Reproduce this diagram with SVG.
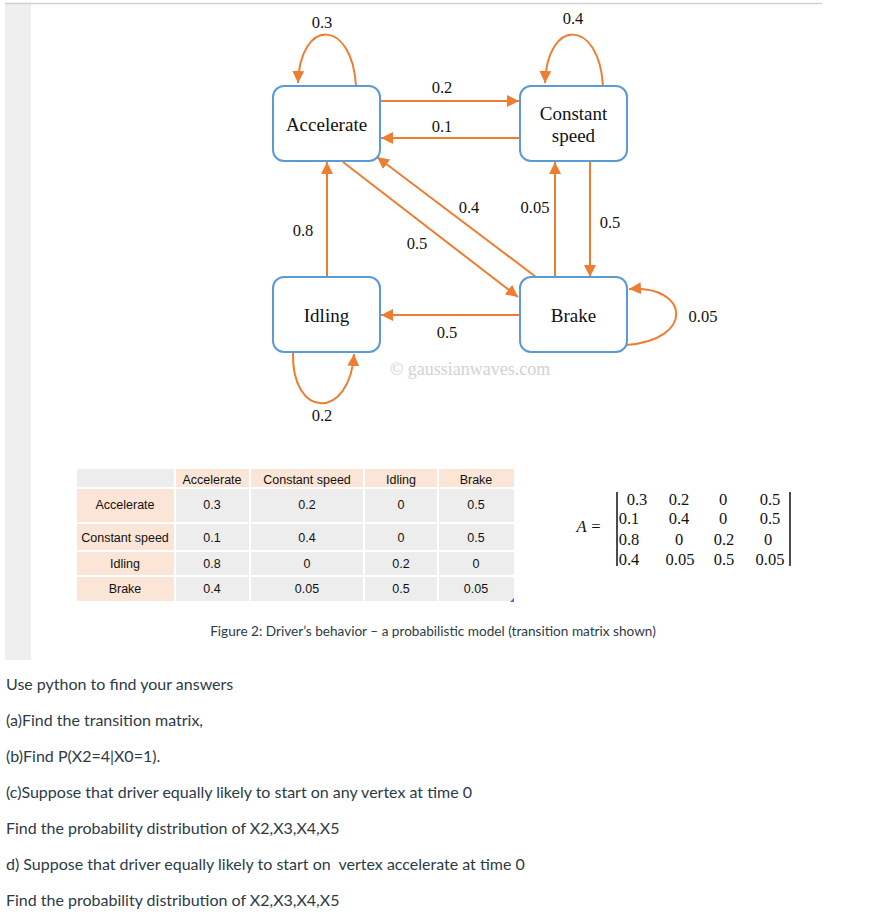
<svg xmlns="http://www.w3.org/2000/svg" width="882" height="924" viewBox="0 0 882 924">
<style>
.box{fill:#fff;stroke:#5B9BD5;stroke-width:2}
.ntext{font-family:"Liberation Serif",serif;font-size:19px;fill:#111;text-anchor:middle;dominant-baseline:central}
.lbl{font-family:"Liberation Serif",serif;font-size:16.5px;fill:#111;text-anchor:middle;dominant-baseline:central}
.edge{fill:none;stroke:#ED7D31;stroke-width:2;marker-end:url(#ah)}
.th{fill:#FBE5D6;stroke:#fff;stroke-width:2}
.tg{fill:#EDEDED;stroke:#fff;stroke-width:2}
.tt{font-family:"Liberation Sans",sans-serif;font-size:12.5px;fill:#111;text-anchor:middle;dominant-baseline:central}
.mx{font-family:"Liberation Serif",serif;font-size:16.5px;fill:#111;text-anchor:middle;dominant-baseline:central}
.q{font-family:Lato,"Liberation Sans",sans-serif;font-size:16px;fill:#2D3B45}
</style>
<defs>
<marker id="ah" viewBox="0 0 12 12" refX="12" refY="6" markerWidth="12" markerHeight="12" markerUnits="userSpaceOnUse" orient="auto">
<path d="M0,0 L12,6 L0,12 z" fill="#ED7D31"/>
</marker>
</defs>
<rect x="0" y="0" width="882" height="924" fill="#fff"/>
<rect x="5" y="4" width="26" height="656" fill="#EFEFEF"/>
<line x1="5" y1="3.5" x2="822" y2="3.5" stroke="#D0D0D0" stroke-width="1.5"/>

<g id="connectors">
<path class="edge" d="M356,86 C352,18 300,18 298,83"/>
<path class="edge" d="M603,86 C599,18 547,18 545,83"/>
<path class="edge" d="M293,352 C291,420 350,420 354,354"/>
<path class="edge" d="M626,345 C695,340 690,285 629,289"/>
<line class="edge" x1="380" y1="101" x2="519" y2="101"/>
<line class="edge" x1="520" y1="138" x2="381" y2="138"/>
<line class="edge" x1="327" y1="277" x2="327" y2="162"/>
<line class="edge" x1="343" y1="162" x2="518" y2="297"/>
<line class="edge" x1="536" y1="277" x2="377" y2="157"/>
<line class="edge" x1="555" y1="277" x2="555" y2="162"/>
<line class="edge" x1="590" y1="161" x2="590" y2="277"/>
<line class="edge" x1="520" y1="315" x2="381" y2="315"/>
<text class="lbl" x="322" y="22">0.3</text>
<text class="lbl" x="573" y="18">0.4</text>
<text class="lbl" x="442" y="87">0.2</text>
<text class="lbl" x="442" y="126">0.1</text>
<text class="lbl" x="303" y="230">0.8</text>
<text class="lbl" x="417" y="243">0.5</text>
<text class="lbl" x="469" y="207">0.4</text>
<text class="lbl" x="535" y="207">0.05</text>
<text class="lbl" x="610" y="222">0.5</text>
<text class="lbl" x="447" y="332">0.5</text>
<text class="lbl" x="703" y="316">0.05</text>
<text class="lbl" x="322" y="415">0.2</text>
</g>

<g id="accelerate">
<rect class="box" x="273" y="86" width="107" height="75" rx="11"/>
<text class="ntext" x="326.5" y="124">Accelerate</text>
</g>
<g id="constant-speed">
<rect class="box" x="520" y="86" width="107" height="75" rx="11"/>
<text class="ntext" x="573.5" y="113">Constant</text>
<text class="ntext" x="573.5" y="135">speed</text>
</g>
<g id="idling">
<rect class="box" x="273" y="277" width="107" height="75" rx="11"/>
<text class="ntext" x="326.5" y="315">Idling</text>
</g>
<g id="brake">
<rect class="box" x="520" y="277" width="107" height="75" rx="11"/>
<text class="ntext" x="573.5" y="315">Brake</text>
</g>

<text x="470" y="369" font-family="'Liberation Serif',serif" font-size="18" fill="#D2D2D2" text-anchor="middle" dominant-baseline="central">© gaussianwaves.com</text>

<g id="table">
<rect x="76" y="468" width="99" height="20" fill="#EDEDED" stroke="#fff" stroke-width="2"/>
<rect class="th" x="175" y="468" width="75" height="20"/>
<rect class="th" x="250" y="468" width="114" height="20"/>
<rect class="th" x="364" y="468" width="74" height="20"/>
<rect class="th" x="438" y="468" width="77" height="20"/>
<rect class="th" x="76" y="488" width="99" height="35"/>
<rect class="th" x="76" y="523" width="99" height="28"/>
<rect class="th" x="76" y="551" width="99" height="25"/>
<rect class="th" x="76" y="576" width="99" height="26"/>
<rect class="tg" x="175" y="488" width="75" height="35"/><rect class="tg" x="250" y="488" width="114" height="35"/><rect class="tg" x="364" y="488" width="74" height="35"/><rect class="tg" x="438" y="488" width="77" height="35"/>
<rect class="tg" x="175" y="523" width="75" height="28"/><rect class="tg" x="250" y="523" width="114" height="28"/><rect class="tg" x="364" y="523" width="74" height="28"/><rect class="tg" x="438" y="523" width="77" height="28"/>
<rect class="tg" x="175" y="551" width="75" height="25"/><rect class="tg" x="250" y="551" width="114" height="25"/><rect class="tg" x="364" y="551" width="74" height="25"/><rect class="tg" x="438" y="551" width="77" height="25"/>
<rect class="tg" x="175" y="576" width="75" height="26"/><rect class="tg" x="250" y="576" width="114" height="26"/><rect class="tg" x="364" y="576" width="74" height="26"/><rect class="tg" x="438" y="576" width="77" height="26"/>
<polygon points="514,598 514,602 510,602" fill="#4472C4"/>
<text class="tt" x="212" y="480">Accelerate</text>
<text class="tt" x="307" y="480">Constant speed</text>
<text class="tt" x="401" y="480">Idling</text>
<text class="tt" x="476" y="480">Brake</text>
<text class="tt" x="125" y="505">Accelerate</text>
<text class="tt" x="125" y="538">Constant speed</text>
<text class="tt" x="125" y="564">Idling</text>
<text class="tt" x="125" y="589">Brake</text>
<text class="tt" x="212" y="505">0.3</text><text class="tt" x="307" y="505">0.2</text><text class="tt" x="401" y="505">0</text><text class="tt" x="476" y="505">0.5</text>
<text class="tt" x="212" y="538">0.1</text><text class="tt" x="307" y="538">0.4</text><text class="tt" x="401" y="538">0</text><text class="tt" x="476" y="538">0.5</text>
<text class="tt" x="212" y="564">0.8</text><text class="tt" x="307" y="564">0</text><text class="tt" x="401" y="564">0.2</text><text class="tt" x="476" y="564">0</text>
<text class="tt" x="212" y="589">0.4</text><text class="tt" x="307" y="589">0.05</text><text class="tt" x="401" y="589">0.5</text><text class="tt" x="476" y="589">0.05</text>
</g>

<g id="matrix">
<text x="589" y="526" font-family="'Liberation Serif',serif" font-style="italic" font-size="16.5" fill="#111" text-anchor="middle" dominant-baseline="central">A =</text>
<line x1="617" y1="492" x2="617" y2="566" stroke="#111" stroke-width="1.5"/>
<line x1="790" y1="492" x2="790" y2="566" stroke="#111" stroke-width="1.5"/>
<text class="mx" x="637" y="499">0.3</text><text class="mx" x="679" y="499">0.2</text><text class="mx" x="723" y="499">0</text><text class="mx" x="770" y="499">0.5</text>
<text class="mx" x="629" y="518">0.1</text><text class="mx" x="679" y="518">0.4</text><text class="mx" x="723" y="518">0</text><text class="mx" x="770" y="518">0.5</text>
<text class="mx" x="629" y="539">0.8</text><text class="mx" x="679" y="539">0</text><text class="mx" x="724" y="539">0.2</text><text class="mx" x="768" y="539">0</text>
<text class="mx" x="629" y="559">0.4</text><text class="mx" x="680" y="559">0.05</text><text class="mx" x="724" y="559">0.5</text><text class="mx" x="770" y="559">0.05</text>
</g>

<text x="433" y="636" font-family="Lato,'Liberation Sans',sans-serif" font-size="13.6" fill="#2D3B45" text-anchor="middle">Figure 2: Driver’s behavior – a probabilistic model (transition matrix shown)</text>

<text class="q" x="6" y="690">Use python to find your answers</text>
<text class="q" x="6" y="726">(a)Find the transition matrix,</text>
<text class="q" x="6" y="762">(b)Find P(X2=4|X0=1).</text>
<text class="q" x="6" y="798">(c)Suppose that driver equally likely to start on any vertex at time 0</text>
<text class="q" x="6" y="834">Find the probability distribution of X2,X3,X4,X5</text>
<text class="q" x="6" y="870" xml:space="preserve">d) Suppose that driver equally likely to start on  vertex accelerate at time 0</text>
<text class="q" x="6" y="906">Find the probability distribution of X2,X3,X4,X5</text>
</svg>
